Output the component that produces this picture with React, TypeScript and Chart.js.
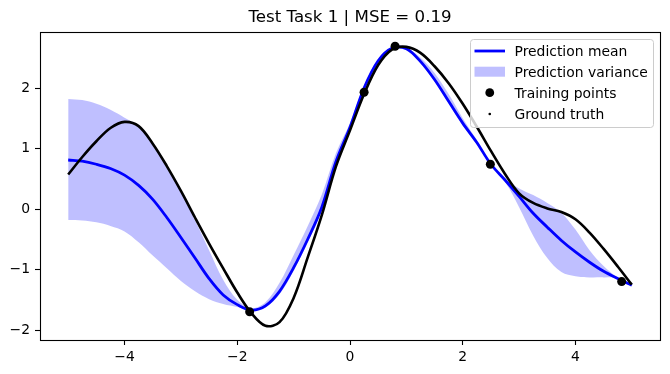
import React, { useEffect, useRef } from "react";
import { Chart, registerables } from "chart.js";

Chart.register(...registerables);

const TITLE = "Test Task 1 | MSE = 0.19";

const xGrid = [
  -5, -4.75, -4.5, -4.25, -4, -3.75, -3.5, -3.25, -3, -2.75, -2.5, -2.25, -2, -1.75, -1.5, -1.25, -1, -0.75, -0.5, -0.25,
  0, 0.25, 0.5, 0.75, 1, 1.25, 1.5, 1.75, 2, 2.25, 2.5, 2.75, 3, 3.25, 3.5, 3.75, 4, 4.25, 4.5, 4.75, 5,
];

const truthY = [
  0.57, 0.86, 1.12, 1.34, 1.44, 1.37, 1.08, 0.71, 0.3, -0.14, -0.57, -0.98, -1.38, -1.72, -1.93, -1.87, -1.47, -0.8, -0.1, 0.7,
  1.3, 1.9, 2.38, 2.64, 2.68, 2.58, 2.36, 2.08, 1.74, 1.36, 0.96, 0.58, 0.26, 0.1, 0.01, -0.05, -0.17, -0.39, -0.66, -0.95, -1.25,
];

const meanY = [
  0.81, 0.79, 0.74, 0.67, 0.56, 0.39, 0.16, -0.14, -0.47, -0.81, -1.15, -1.42, -1.58, -1.67, -1.6, -1.36, -0.97, -0.5, 0.03, 0.78,
  1.35, 2.0, 2.45, 2.66, 2.65, 2.44, 2.14, 1.78, 1.42, 1.1, 0.74, 0.48, 0.21, -0.07, -0.3, -0.52, -0.71, -0.88, -1.03, -1.15, -1.26,
];

const upperY = [
  1.82, 1.8, 1.74, 1.64, 1.51, 1.37, 1.1, 0.72, 0.3, -0.18, -0.68, -1.17, -1.5, -1.64, -1.54, -1.22, -0.76, -0.28, 0.24, 0.92,
  1.42, 2.04, 2.47, 2.68, 2.67, 2.5, 2.25, 1.9, 1.5, 1.14, 0.76, 0.5, 0.34, 0.23, 0.1, -0.06, -0.34, -0.68, -0.94, -1.13, -1.24,
];

const lowerY = [
  -0.18, -0.19, -0.22, -0.28, -0.37, -0.55, -0.77, -0.98, -1.19, -1.36, -1.49, -1.57, -1.62, -1.68, -1.63, -1.41, -1.02, -0.55, -0.02, 0.73,
  1.31, 1.97, 2.43, 2.64, 2.63, 2.41, 2.11, 1.75, 1.38, 1.07, 0.72, 0.45, 0.03, -0.44, -0.81, -1.04, -1.11, -1.13, -1.13, -1.14, -1.27,
];

const trainX = [-1.78, 0.25, 0.8, 2.49, 4.82];
const trainY = [-1.7, 1.93, 2.69, 0.74, -1.2];

const xTickValues = [-4, -2, 0, 2, 4];
const yTickValues = [-2, -1, 0, 1, 2];

const legendLabels = ["Prediction mean", "Prediction variance", "Training points", "Ground truth"];

const FONT = "'DejaVu Sans', 'Liberation Sans', sans-serif";
const BLUE = "#0000ff";
const BAND = "rgba(0,0,255,0.25)";
const TENSION = 0.35;

const fmt = (v: number) => (v < 0 ? "\u2212" + Math.abs(v) : String(v));

const pts = (xs: number[], ys: number[]) => xs.map((x, i) => ({ x, y: ys[i] }));

const decorPlugin = {
  id: "mplDecor",
  afterDraw(chart: any) {
    const { ctx, chartArea: a } = chart;
    ctx.save();
    // axes frame
    ctx.strokeStyle = "#000";
    ctx.lineWidth = 1.1;
    ctx.strokeRect(a.left + 0.5, a.top + 0.5, a.right - a.left, a.bottom - a.top);

    // legend box
    const bx = a.right - 189.5;
    const by = a.top + 7.5;
    const bw = 183;
    const bh = 88;
    ctx.beginPath();
    (ctx as any).roundRect(bx, by, bw, bh, 3);
    ctx.fillStyle = "rgba(255,255,255,0.8)";
    ctx.fill();
    ctx.strokeStyle = "rgb(204,204,204)";
    ctx.lineWidth = 1;
    ctx.stroke();

    const hx0 = bx + 4;
    const hx1 = bx + 34.5;
    const hc = (hx0 + hx1) / 2;
    const rows = [by + 11.5, by + 32.2, by + 53.2, by + 74.5];

    ctx.strokeStyle = BLUE;
    ctx.lineWidth = 2.8;
    ctx.beginPath();
    ctx.moveTo(hx0, rows[0]);
    ctx.lineTo(hx1, rows[0]);
    ctx.stroke();
    ctx.fillStyle = BAND;
    ctx.fillRect(hx0, rows[1] - 5, hx1 - hx0, 10);
    ctx.fillStyle = "#000";
    ctx.beginPath();
    ctx.arc(hc, rows[2], 4.4, 0, Math.PI * 2);
    ctx.fill();
    ctx.beginPath();
    ctx.arc(hc, rows[3], 1.3, 0, Math.PI * 2);
    ctx.fill();

    ctx.fillStyle = "#000";
    ctx.font = `13.9px ${FONT}`;
    ctx.textAlign = "left";
    ctx.textBaseline = "alphabetic";
    legendLabels.forEach((t, i) => {
      ctx.fillText(t, bx + 44, rows[i] + 5);
    });
    ctx.restore();
  },
};

export default function App() {
  const ref = useRef<HTMLCanvasElement | null>(null);

  useEffect(() => {
    if (!ref.current) return;
    const tickFont = { family: FONT, size: 13.9 };
    const chart = new Chart(ref.current, {
      type: "scatter",
      data: {
        datasets: [
          {
            label: "Ground truth",
            data: pts(xGrid, truthY),
            showLine: true,
            borderColor: "#000",
            borderWidth: 2.6,
            pointRadius: 0,
            tension: TENSION,
            fill: false,
          },
          {
            label: "Training points",
            data: pts(trainX, trainY),
            showLine: false,
            pointRadius: 4.5,
            pointBackgroundColor: "#000",
            pointBorderWidth: 0,
          },
          {
            label: "Prediction mean",
            data: pts(xGrid, meanY),
            showLine: true,
            borderColor: BLUE,
            borderWidth: 2.8,
            pointRadius: 0,
            tension: TENSION,
            fill: false,
          },
          {
            label: "Prediction variance",
            data: pts(xGrid, upperY),
            showLine: true,
            borderWidth: 0,
            borderColor: "rgba(0,0,0,0)",
            backgroundColor: BAND,
            pointRadius: 0,
            tension: TENSION,
            fill: 4,
          },
          {
            label: "lower",
            data: pts(xGrid, lowerY),
            showLine: true,
            borderWidth: 0,
            borderColor: "rgba(0,0,0,0)",
            pointRadius: 0,
            tension: TENSION,
            fill: false,
          },
        ],
      },
      options: {
        responsive: false,
        animation: false,
        devicePixelRatio: 1,
        layout: { padding: { left: 0, right: 10, top: 0, bottom: 0 } },
        plugins: {
          legend: { display: false },
          tooltip: { enabled: false },
          title: {
            display: true,
            fullSize: false,
            text: TITLE,
            color: "#000",
            font: { family: FONT, size: 16.67, weight: "normal", lineHeight: 1.2 },
            padding: { top: 8, bottom: 4 },
          },
        },
        scales: {
          x: {
            type: "linear",
            min: -5.5,
            max: 5.5,
            afterBuildTicks: (s: any) => {
              s.ticks = xTickValues.map((v) => ({ value: v }));
            },
            afterFit: (s: any) => {
              s.height = 34;
            },
            ticks: {
              callback: (v: any) => fmt(Number(v)),
              color: "#000",
              font: tickFont,
              padding: 4,
              maxRotation: 0,
              autoSkip: false,
            },
            grid: { drawOnChartArea: false, drawTicks: true, tickLength: 5, tickColor: "#000", tickWidth: 1.1 },
            border: { display: false },
          },
          y: {
            type: "linear",
            min: -2.165,
            max: 2.926,
            afterBuildTicks: (s: any) => {
              s.ticks = yTickValues.map((v) => ({ value: v }));
            },
            afterFit: (s: any) => {
              s.width = 40;
            },
            ticks: {
              callback: (v: any) => fmt(Number(v)),
              color: "#000",
              font: tickFont,
              padding: 5,
              autoSkip: false,
            },
            grid: { drawOnChartArea: false, drawTicks: true, tickLength: 5, tickColor: "#000", tickWidth: 1.1 },
            border: { display: false },
          },
        },
      },
      plugins: [decorPlugin],
    } as any);
    return () => chart.destroy();
  }, []);

  return (
    <div style={{ position: "absolute", left: 0, top: 0, width: 670, height: 374, background: "#fff" }}>
      <canvas ref={ref} width={670} height={374} style={{ display: "block" }} />
    </div>
  );
}
